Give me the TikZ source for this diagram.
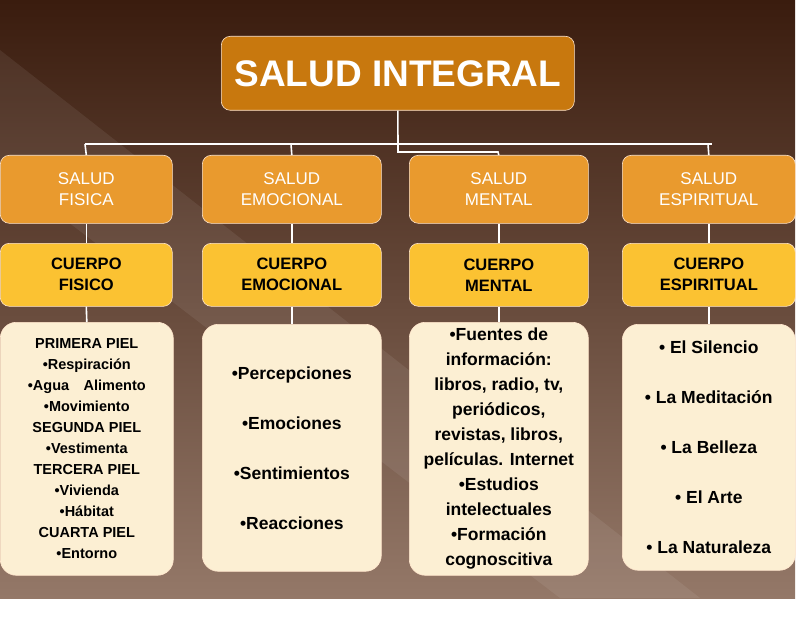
\documentclass[tikz,border=0pt]{standalone}
\usepackage{fontspec}
\setmainfont{Liberation Sans}
\definecolor{bgtop}{HTML}{3A1C0E}
\definecolor{bgmid}{HTML}{4E2C1A}
\definecolor{bgbot}{HTML}{947868}
\definecolor{titlefill}{HTML}{C8780E}
\definecolor{afill}{HTML}{E99A2E}
\definecolor{bfill}{HTML}{FBC232}
\definecolor{cfill}{HTML}{FCEFD3}
\begin{document}
\begin{tikzpicture}[x=1pt,y=-1pt,
  box/.style={draw=white!80!orange,line width=0.6pt,rounded corners=9pt,align=center,anchor=north west,inner sep=0pt},
  rowa/.style={box,fill=afill,text=white,font=\fontsize{17}{21}\selectfont},
  rowb/.style={box,fill=bfill,text=black,font=\bfseries\fontsize{16.5}{21}\selectfont},
  rowc/.style={box,fill=cfill,text=black,font=\bfseries\fontsize{16}{20.5}\selectfont,rounded corners=16pt},
  link/.style={draw=white,line width=1.6pt}]
\useasboundingbox (0,0) rectangle (801,623);
\fill[white] (0,0) rectangle (801,623);
\shade[top color=bgtop,middle color=bgmid,bottom color=bgbot] (0,0) rectangle (795,598);
\fill[white,opacity=0.07] (0,50) -- (0,170) -- (560,598) -- (700,598) -- cycle;
% title
\node[box,fill=titlefill,text=white,font=\bfseries\fontsize{37}{42}\selectfont,minimum width=353pt,minimum height=74pt] (t) at (221,36) {SALUD INTEGRAL};
% row 1
\node[rowa,minimum width=172pt,minimum height=68pt] (a1) at (0,155) {SALUD\\FISICA};
\node[rowa,minimum width=179pt,minimum height=68pt] (a2) at (202,155) {SALUD\\EMOCIONAL};
\node[rowa,minimum width=179pt,minimum height=68pt] (a3) at (409,155) {SALUD\\MENTAL};
\node[rowa,minimum width=173pt,minimum height=68pt] (a4) at (622,155) {SALUD\\ESPIRITUAL};
% row 2
\node[rowb,minimum width=172pt,minimum height=63pt] (b1) at (0,243) {CUERPO\\FISICO};
\node[rowb,minimum width=179pt,minimum height=63pt] (b2) at (202,243) {CUERPO\\EMOCIONAL};
\node[rowb,minimum width=179pt,minimum height=63pt] (b3) at (409,243) {CUERPO\\MENTAL};
\node[rowb,minimum width=173pt,minimum height=63pt] (b4) at (622,243) {CUERPO\\ESPIRITUAL};
% row 3
\node[rowc,minimum width=173pt,minimum height=253pt,font=\bfseries\fontsize{14.5}{21}\selectfont] (c1) at (0,322) {PRIMERA PIEL\\•Respiración\\•Agua\quad Alimento\\•Movimiento\\SEGUNDA PIEL\\•Vestimenta\\TERCERA PIEL\\•Vivienda\\•Hábitat\\CUARTA PIEL\\•Entorno};
\node[rowc,minimum width=179pt,minimum height=247pt,font=\bfseries\fontsize{17.5}{25}\selectfont] (c2) at (202,324) {•Percepciones\\[25pt]•Emociones\\[25pt]•Sentimientos\\[25pt]•Reacciones};
\node[rowc,minimum width=179pt,minimum height=253pt,font=\bfseries\fontsize{17.5}{25}\selectfont] (c3) at (409,322) {•Fuentes de\\información:\\libros, radio, tv,\\periódicos,\\revistas, libros,\\películas. Internet\\•Estudios\\intelectuales\\•Formación\\cognoscitiva};
\node[rowc,minimum width=173pt,minimum height=246pt,font=\bfseries\fontsize{17.5}{25}\selectfont] (c4) at (622,324) {• El Silencio\\[25pt]• La Meditación\\[25pt]• La Belleza\\[25pt]• El Arte\\[25pt]• La Naturaleza};
% connectors
\coordinate (j) at (398,144);
\draw[link] (t.south) -- (j);
\draw[link] (85,144) -- (712,144);
\draw[link] (85,144) -- (a1.north);
\draw[link] (291,144) -- (a2.north);
\draw[link] (708,144) -- (a4.north);
\draw[link] (398,144) -- (398,152) -- (498,152) -- (a3.north);
\foreach \i in {1,...,4}{
  \draw[link] (a\i.south) -- (b\i.north);
  \draw[link] (b\i.south) -- (c\i.north);}
\end{tikzpicture}
\end{document}
